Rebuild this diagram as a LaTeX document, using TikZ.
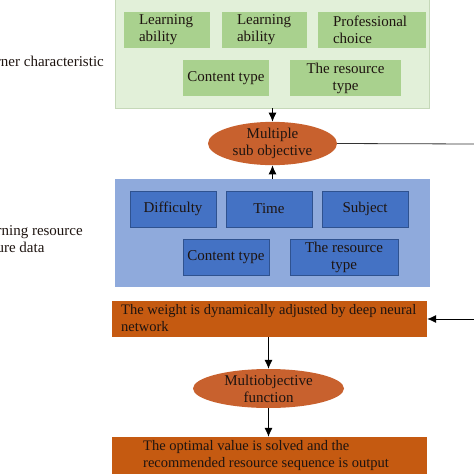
\documentclass[tikz,border=0pt]{standalone}
\usepackage{fontspec}
\setmainfont{Liberation Serif}
\usetikzlibrary{shapes.geometric,arrows.meta}
\definecolor{gbg}{HTML}{E2F0D9}
\definecolor{gbd}{HTML}{C5D8B8}
\definecolor{gin}{HTML}{A9D18E}
\definecolor{bbg}{HTML}{8FAADC}
\definecolor{bin}{HTML}{4472C4}
\definecolor{bbd}{HTML}{2F528F}
\definecolor{org}{HTML}{C55A11}
\definecolor{ell}{HTML}{C8612E}
\definecolor{txt}{HTML}{1E1410}
\tikzset{
  every node/.style={font=\fontsize{15}{17}\selectfont, text=txt},
  gbox/.style={fill=gin, draw=none, minimum height=36pt, inner ysep=0pt},
  gleft/.style={gbox, align=left, inner xsep=15pt},
  bbox/.style={fill=bin, draw=bbd, line width=0.8pt, minimum height=36pt, align=center, inner sep=0pt},
  obox/.style={fill=org, draw=none, inner sep=0pt},
  otext/.style={anchor=west, align=left, inner sep=0pt, font=\fontsize{14.5}{17.5}\selectfont},
  oell/.style={ellipse, fill=ell, draw=none, align=center, inner sep=0pt},
  arr/.style={-{Latex[length=9pt,width=8pt]}, line width=0.8pt, draw=black},
  lne/.style={line width=0.8pt, draw=black!80},
}
\begin{document}
\begin{tikzpicture}[x=1pt,y=-1pt]
\useasboundingbox (0,0) rectangle (474,474);
% green group
\node[draw=gbd, fill=gbg, line width=0.8pt, minimum width=314pt, minimum height=118pt, inner sep=0pt] (green) at (272.5,49) {};
\node[gleft, text width=56pt] (g1) at (167,30) {Learning\\ability};
\node[gleft, text width=55pt] (g2) at (264.5,30) {Learning\\ability};
\node[gleft, text width=78pt] (g3) at (372,30) {Professional\\choice};
\node[gbox, minimum width=86pt, align=center, inner xsep=0pt] (g4) at (226,78) {Content type};
\node[gbox, minimum width=111pt, align=center, inner xsep=0pt] (g5) at (345.5,78) {The resource\\type};
\node[anchor=east, align=left, inner sep=0pt] (lab1) at (104,69.5) {Learner characteristic\\data};
% ellipse 1
\node[oell, minimum width=129pt, minimum height=39pt] (e1) at (272.5,143.5) {Multiple\\sub objective};
% blue group
\node[fill=bbg, draw=none, minimum width=315pt, minimum height=108pt, inner sep=0pt] (blue) at (272.5,233) {};
\node[bbox, minimum width=86pt] (b1) at (173,209) {Difficulty};
\node[bbox, minimum width=86pt] (b2) at (269,209) {Time};
\node[bbox, minimum width=86pt] (b3) at (365,209) {Subject};
\node[bbox, minimum width=86pt] (b4) at (226,257) {Content type};
\node[bbox, minimum width=108pt] (b5) at (344,257) {The resource\\type};
\node[anchor=east, align=left, inner sep=0pt] (lab2) at (83,239.5) {Learning resource\\feature data};
% orange rect 1
\node[obox, minimum width=315pt, minimum height=36pt] (o1) at (269.5,319) {};
\node[otext] (o1t) at (121,318) {The weight is dynamically adjusted by deep neural\\network};
% ellipse 2
\node[oell, minimum width=151pt, minimum height=39pt] (e2) at (268.5,388.5) {Multiobjective\\function};
% orange rect 2
\node[obox, minimum width=315pt, minimum height=50pt] (o2) at (269.5,462) {};
\node[otext] (o2t) at (143,455.5) {The optimal value is solved and the\\recommended resource sequence is output};
% right edge coordinates
\coordinate (r1) at (474,144);
\coordinate (r2) at (474,319);
% connectors
\draw[arr] (green.south -| e1) -- (e1.north);
\draw[arr] (blue.north -| e1) -- (e1.south);
\draw[lne] (e1.east) -- (r1);
\draw[arr] (r2) -- (o1.east);
\draw[arr] (o1.south -| e2) -- (e2.north);
\draw[arr] (e2.south) -- (o2.north -| e2);
\end{tikzpicture}
\end{document}
